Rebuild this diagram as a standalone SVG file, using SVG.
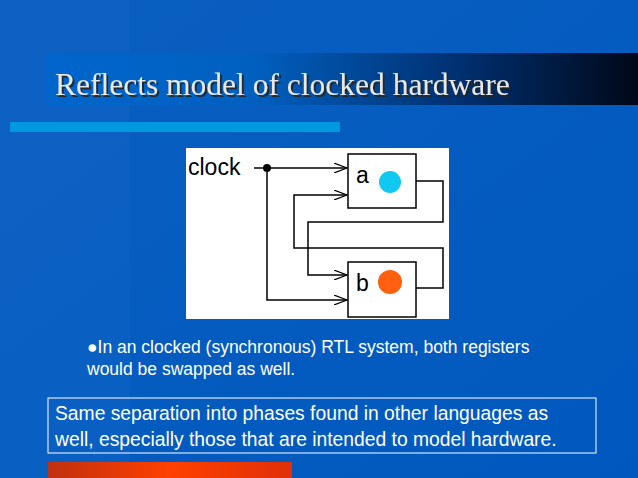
<svg xmlns="http://www.w3.org/2000/svg" width="638" height="478" viewBox="0 0 638 478">
<defs>
<linearGradient id="bg" x1="0" y1="0" x2="1" y2="1"><stop offset="0" stop-color="#0A5FC0"/><stop offset="1" stop-color="#0058BE"/></linearGradient>
<linearGradient id="tb" x1="0" y1="0" x2="1" y2="0"><stop offset="0" stop-color="#0066CC"/><stop offset="0.35" stop-color="#0060C0"/><stop offset="0.7" stop-color="#003070"/><stop offset="1" stop-color="#000818"/></linearGradient>
<linearGradient id="ob" x1="0" y1="0" x2="1" y2="0"><stop offset="0" stop-color="#C03010"/><stop offset="0.5" stop-color="#FF4000"/><stop offset="1" stop-color="#E03008"/></linearGradient>
<filter id="sh" x="-5%" y="-20%" width="110%" height="140%"><feDropShadow dx="2" dy="2" stdDeviation="0.5" flood-color="#222" flood-opacity="0.9"/></filter>
<marker id="ah" markerWidth="14" markerHeight="10" refX="13" refY="5" orient="auto" markerUnits="userSpaceOnUse"><path d="M0,0 L13,5 L0,10" fill="none" stroke="#000" stroke-width="1.2"/></marker>
</defs>
<style>
.w{fill:#fff;font-family:"Liberation Sans",Arial,sans-serif}
.c{fill:none;stroke:#000;stroke-width:1.5}
.n{font-family:"Liberation Sans",Arial,sans-serif;font-size:23px;fill:#000}
</style>
<rect width="638" height="478" fill="url(#bg)"/>
<rect x="0" y="0" width="130" height="478" fill="#1468C8" opacity="0.35"/>
<rect x="45" y="53" width="593" height="52" fill="url(#tb)"/>
<text x="55" y="95" font-family="Liberation Serif,serif" font-size="31.5" fill="#E8E8E8" filter="url(#sh)">Reflects model of clocked hardware</text>
<rect x="10" y="122" width="330" height="10" fill="#0099E0"/>
<rect x="186" y="148" width="263" height="171" fill="#fff"/>
<g id="clock"><text class="n" x="188" y="175">clock</text><circle cx="267" cy="168" r="4" fill="#000"/></g>
<g id="a"><rect x="348" y="154" width="68" height="54" fill="#fff" stroke="#000" stroke-width="1.5"/><text class="n" x="356" y="183">a</text><circle cx="390" cy="182" r="11" fill="#10C8F0"/></g>
<g id="b"><rect x="348" y="262" width="68" height="55" fill="#fff" stroke="#000" stroke-width="1.5"/><text class="n" x="356" y="291">b</text><circle cx="390" cy="282" r="12" fill="#FF6010"/></g>
<g id="connectors">
<path class="c" d="M254,168 H347" marker-end="url(#ah)"/>
<path class="c" d="M267,168 V300 H347" marker-end="url(#ah)"/>
<path class="c" d="M416,181 H443 V222 H308 V275 H347" marker-end="url(#ah)"/>
<path class="c" d="M416,288 H443 V248 H294 V195 H347" marker-end="url(#ah)"/>
</g>
<text class="w" x="87" y="353" font-size="17.5">●In an clocked (synchronous) RTL system, both registers</text>
<text class="w" x="87" y="375" font-size="17.5">would be swapped as well.</text>
<rect x="48" y="398" width="548" height="55" fill="none" stroke="#fff" stroke-width="1"/>
<text class="w" x="55" y="420" font-size="19.3">Same separation into phases found in other languages as</text>
<text class="w" x="55" y="446" font-size="19.3">well, especially those that are intended to model hardware.</text>
<rect x="48" y="462" width="244" height="16" fill="url(#ob)"/>
</svg>
